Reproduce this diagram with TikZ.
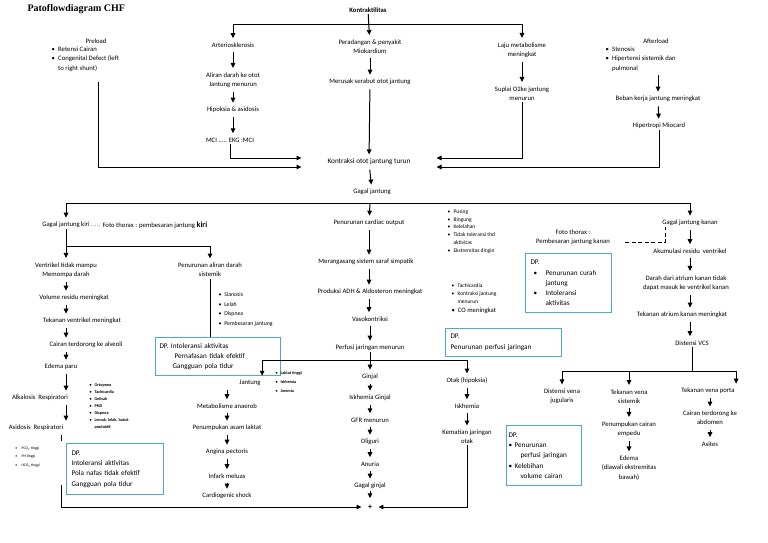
\documentclass[tikz,border=0pt]{standalone}
\usepackage{fontspec}
\setmainfont{Carlito}
\newfontfamily\titlefont{Liberation Serif}
\usetikzlibrary{arrows.meta}
\definecolor{dpcyan}{HTML}{4BACC6}
\newcommand{\bul}[1][1em]{\makebox[#1][l]{\textbullet}}
\newcommand{\nobul}[1][1em]{\hspace*{#1}}

\begin{document}
\begin{tikzpicture}[x=1pt, y=-1pt, line width=1pt,
    lbl/.style={font=\fontsize{6.7}{9.3}\selectfont, align=center, inner sep=1pt},
    lst/.style={font=\fontsize{5.5}{7.8}\selectfont, align=left, inner sep=0pt, anchor=north west},
    tny/.style={font=\bfseries\fontsize{4.2}{7}\selectfont, align=left, inner sep=0pt, anchor=north west},
    dp/.style={draw=dpcyan, line width=1.1pt, anchor=north west, align=left, inner ysep=2pt, font=\fontsize{7.2}{10.3}\selectfont},
    arr/.style={-{Triangle[length=5pt,width=4.6pt]}, shorten >=3pt},
    go/.style={arr, shorten <=3pt}]
                \useasboundingbox (0,0) rectangle (768,543);
                % Top: causes
                \node[font=\titlefont\bfseries\fontsize{10}{12}\selectfont, inner sep=0pt, anchor=west] (title) at (27,9) {Patoflowdiagram CHF};
                \node[lbl, font=\bfseries\fontsize{6.7}{9}\selectfont] (kontrak) at (368,10) {Kontraktilitas};
                \node[lbl] (preload) at (96,41) {Preload};
                \node[lst, font=\fontsize{6.7}{9.5}\selectfont] (prelist) at (51,46) {\bul Retensi Cairan\\\bul Congenital Defect (left\\\nobul to right shunt)};
                \node[lbl] (arterio) at (233,45) {Arteriosklerosis};
                \node[lbl] (aliran) at (233,80) {Aliran darah ke otot\\Jantung menurun};
                \node[lbl] (hipok) at (233,110) {Hipoksia \& asidosis};
                \node[lbl] (mci) at (230,140) {MCI ..... EKG :MCI};
                \node[lbl] (perad) at (370,46.5) {Peradangan \& penyakit\\Miokardium};
                \node[lbl] (merusak) at (370,82) {Merusak serabut otot jantung};
                \node[lbl] (laju) at (522,50) {Laju metabolisme\\meningkat};
                \node[lbl] (suplai) at (522,93.5) {Suplai O2ke jantung\\menurun};
                \node[lbl] (afterload) at (656,41) {Afterload};
                \node[lst, font=\fontsize{6.7}{9.5}\selectfont] (aftlist) at (605,46) {\bul Stenosis\\\bul Hipertensi sistemik dan\\\nobul pulmonal};
                \node[lbl] (beban) at (658,99) {Beban kerja jantung meningkat};
                \node[lbl] (hiper) at (659,126) {Hipertropi Miocard};
                \node[lbl, font=\fontsize{7.2}{9}\selectfont, minimum width=128pt] (kontr) at (369,162) {Kontraksi otot jantung turun};
                \node[lbl] (gagal) at (372,192) {Gagal jantung};
                \coordinate (kbar) at (370,25);
                \coordinate (pl) at (98,82);
                \draw[arr] (kontrak) -- (perad);
                \draw[arr] (kbar) -| (arterio);
                \draw[arr] (kbar) -| (laju);
                \draw[go] (arterio) -- (aliran);
                \draw[go] (aliran) -- (hipok);
                \draw[go] (hipok) -- (hipok |- mci.north);
                \draw[go] (perad) -- (merusak);
                \draw[go] (merusak) -- (kontr);
                \draw[go] (laju) -- (suplai);
                \draw[go] (beban |- aftlist.south) -- (beban);
                \draw[go] (beban) -- (hiper);
                \draw[arr] (mci) |- ([yshift=4pt]kontr.west);
                \draw[arr] (pl) |- ([yshift=-5pt]kontr.west);
                \draw[arr] (suplai) |- ([yshift=4pt]kontr.east);
                \draw[arr] (hiper) |- ([yshift=-5pt]kontr.east);
                \draw[go] (kontr) -- (gagal);

                % Left: gagal jantung kiri
                \node[lbl] (gkiri) at (66,225) {Gagal jantung kiri};
                \node[lbl, anchor=west] (fotokiri) at (101,225) {Foto thorax : pembesaran jantung {\bfseries\fontsize{8}{9}\selectfont kiri}};
                \node[lbl] (ventr) at (66,270) {Ventrikel tidak mampu\\Memompa darah};
                \node[lbl] (volres) at (74,298) {Volume residu meningkat};
                \node[lbl] (tekv) at (82,321) {Tekanan ventrikel meningkat};
                \node[lbl] (cairan) at (86,345) {Cairan terdorong ke alveoli};
                \node[lbl] (edema) at (61,367) {Edema paru};
                \node[lbl] (alk) at (40,398) {Alkalosis\ \ Respiratori};
                \node[lbl] (asid) at (36,428) {Asidosis\ \ Respiratori};
                \node[tny, font=\fontsize{3.8}{8.5}\selectfont] (pcolist) at (15,446) {\bul[1.6em]PCO\textsubscript{2} tinggi\\\bul[1.6em]PH tinggi\\\bul[1.6em]HCO\textsubscript{3} tinggi};
                \node[tny] (ortolist) at (89,383) {\bul[1.2em]Ortopnea\\\bul[1.2em]Tachicardia\\\bul[1.2em]Gelisah\\\bul[1.2em]PND\\\bul[1.2em]Dispnea\\\bul[1.2em]Lemak, lelah, batuk\\\nobul[1.2em]produktif};
                \node[lbl] (penal) at (210,270) {Penurunan aliran darah\\sistemik};
                \node[lst, font=\fontsize{5.8}{9.7}\selectfont] (sialist) at (218,292) {\bul Sianosis\\\bul Lelah\\\bul Dispnea\\\bul Pembesaran jantung};
                \node[dp, text width=117pt, inner xsep=4pt, minimum height=38pt] (dpa) at (155,337) {DP. Intoleransi aktivitas\\\hspace*{15pt}Pernafasan tidak efektif\\\hspace*{13pt}Gangguan pola tidur};
                \node[lbl] (jant) at (250,383) {Jantung};
                \node[tny, font=\bfseries\fontsize{4.2}{9}\selectfont] (laklist) at (275,371) {\bul[1.2em]Laktat tinggi\\\bul[1.2em]Iskhemia\\\bul[1.2em]Anemia};
                \node[lbl] (metab) at (227,406) {Metabolisme anaerob};
                \node[lbl] (penas) at (227,428) {Penumpukan asam laktat};
                \node[lbl] (angina) at (227,452) {Angina pectoris};
                \node[lbl] (infark) at (227,476) {Infark meluas};
                \node[lbl] (cardio) at (227,496) {Cardiogenic shock};
                \node[dp, text width=87pt, inner xsep=5pt, minimum height=51pt] (dpb) at (66,443) {DP.\\Intoleransi aktivitas\\Pola nafas tidak efektif\\Gangguan pola tidur};

                % Centre: cardiac output
                \node[lbl] (penco) at (369,223) {Penurunan cardiac output};
                \node[lbl] (meran) at (366,262) {Merangasang sistem saraf simpatik};
                \node[lbl] (prod) at (370,292) {Produksi ADH \& Aldosteron meningkat};
                \node[lbl] (vaso) at (370,319) {Vasokontriksi};
                \node[lbl] (perf) at (370,348) {Perfusi jaringan menurun};
                \node[lst] (puslist) at (447,209) {\bul[1.1em]Pusing\\\bul[1.1em]Bingung\\\bul[1.1em]Kelelahan\\\bul[1.1em]Tidak toleransi thd\\\nobul[1.1em]aktivitas\\\bul[1.1em]Ekstremitas dingin};
                \node[lst, font=\fontsize{5.5}{8.3}\selectfont] (tachlist) at (451,283) {\bul[1.1em]Tachicardia\\\bul[1.1em]Kontraksi jantung\\\nobul[1.1em]menurun\\{\fontsize{6.7}{8.3}\selectfont\bul[0.95em]CO meningkat}};
                \node[dp, text width=106pt, inner xsep=5pt, minimum height=28pt, font=\fontsize{7.2}{11.5}\selectfont] (dpc) at (445,328) {DP.\\Penurunan perfusi jaringan};
                \node[lbl] (ginjal) at (370,377) {Ginjal};
                \node[lbl] (iskg) at (370,398) {Iskhemia Ginjal};
                \node[lbl] (gfr) at (370,420) {GFR menurun};
                \node[lbl] (olig) at (370,442) {Oliguri};
                \node[lbl] (anur) at (370,464) {Anuria};
                \node[lbl] (gginj) at (370,486) {Gagal ginjal};
                \node[lbl, font=\bfseries\fontsize{8}{9}\selectfont, inner sep=3pt] (plus) at (370,507) {+};
                \node[lbl] (otak) at (467,381) {Otak (hipoksia)};
                \node[lbl] (iskh) at (467,406) {Iskhemia};
                \node[lbl] (kemat) at (467,437) {Kematian jaringan\\otak};

                % Right: gagal jantung kanan
                \node[lbl] (gkanan) at (690,223) {Gagal jantung kanan};
                \node[lbl] (fotokn) at (573,237.5) {Foto thorax :\\Pembesaran jantung kanan};
                \node[dp, text width=76pt, inner xsep=5pt, minimum height=59pt] (dpd) at (525,253) {DP.\\\hspace*{3pt}\bul[12pt]Penurunan curah\\\nobul[15pt]jantung\\\hspace*{3pt}\bul[12pt]Intoleransi\\\nobul[15pt]aktivitas};
                \node[lbl] (akum) at (690,251) {Akumulasi residu\ \ ventrikel};
                \node[lbl] (darah) at (686,283) {Darah dari atrium kanan tidak\\dapat masuk ke ventrikel kanan};
                \node[lbl] (tekat) at (682,315) {Tekanan atrium kanan meningkat};
                \node[lbl] (vcs) at (692,343) {Distensi VCS};
                \node[lbl] (dvj) at (562,396.5) {Distensi vena\\jugularis};
                \node[lbl] (tvs) at (629,396.5) {Tekanan vena\\sistemik};
                \node[lbl] (penum) at (629,429) {Penumpukan cairan\\empedu};
                \node[lbl] (edema2) at (629,468) {Edema\\(diawali ekstremitas\\bawah)};
                \node[lbl] (tvp) at (708,391) {Tekanan vena porta};
                \node[lbl] (cair2) at (710,418) {Cairan terdorong ke\\abdomen};
                \node[lbl] (asites) at (710,444) {Asites};
                \node[dp, text width=71pt, inner xsep=2pt, minimum height=60pt] (dpe) at (506,425) {DP.\\\bul[6pt]Penurunan\\\nobul[12pt]perfusi jaringan\\\bul[6pt]Kelebihan\\\nobul[12pt]volume cairan};

                % Wires
                \coordinate (gbar) at (370,203);
                \coordinate (lbar) at (66,246);
                \coordinate (pbar) at (370,360);
                \coordinate (vbar) at (692,371);
                \coordinate (tick) at (61,435);
                \coordinate (lowl) at (61,485);
                \draw[arr] (gbar) -| (gkiri);
                \draw[arr] (gbar) -| (gkanan);
                \draw[arr] (gbar) -- (penco);
                \draw[gray!60, line width=0.4pt, dash pattern=on 1pt off 1pt] (gkiri.east) -- (fotokiri.west);
                \draw (gkiri) -- (lbar);
                \draw[arr] (lbar) -- (ventr);
                \draw[arr] (lbar) -| (penal);
                \draw[go] (ventr) -- (ventr |- volres.north);
                \draw[go] (volres.south -| ventr) -- (ventr |- tekv.north);
                \draw[go] (tekv.south -| ventr) -- (ventr |- cairan.north);
                \draw[go] (cairan.south -| ventr) -- (ventr |- edema.north);
                \draw[go] (edema.south -| ventr) -- (ventr |- alk.north);
                \draw[go] (alk.south -| ventr) -- (ventr |- asid.north);
                \draw (tick) -- ++(0,6);
                \draw[arr] (lowl) |- (plus);
                \draw (penal) -- (penal |- dpa.north);
                \draw[go] (jant.south -| metab) -- (metab);
                \draw[go] (metab) -- (penas);
                \draw[go] (penas) -- (angina);
                \draw[go] (angina) -- (infark);
                \draw[go] (infark) -- (cardio);
                \draw[go] (penco) -- (penco |- meran.north);
                \draw[go] (meran.south -| penco) -- (penco |- prod.north);
                \draw[go] (prod.south -| penco) -- (penco |- vaso.north);
                \draw[go] (vaso) -- (perf);
                \draw[arr] (perf) -- (ginjal);
                \draw[arr] (pbar) -| (jant.north east);
                \draw[arr] (pbar) -| (otak);
                \draw[go] (ginjal) -- (iskg);
                \draw[go] (iskg) -- (gfr);
                \draw[go] (gfr) -- (olig);
                \draw[go] (olig) -- (anur);
                \draw[go] (anur) -- (gginj);
                \draw[go, shorten <=1pt] (gginj) -- (plus);
                \draw[go] (otak) -- (iskh);
                \draw[go] (iskh) -- (kemat);
                \draw[arr] (kemat) |- (plus);
                \draw[dash pattern=on 4pt off 2.5pt, line width=0.7pt] ([xshift=14pt,yshift=-4.5pt]fotokn.east) -| ([xshift=5pt]gkanan.south west);
                \draw[go] (gkanan) -- (gkanan |- akum.north);
                \draw[go] (akum) -- (gkanan |- darah.north);
                \draw[go] (darah.south -| gkanan) -- (gkanan |- tekat.north);
                \draw[go] (tekat.south -| gkanan) -- (gkanan |- vcs.north);
                \draw (vcs) -- (vbar);
                \draw[arr] (vbar) -| (dvj);
                \draw[arr] (vbar) -| (tvs);
                \draw[arr] (vbar) -| (tvp.north east);
                \draw[go] (tvs) -- (penum);
                \draw[go] (penum) -- (edema2);
                \draw[go] (tvp.south -| cair2) -- (cair2);
                \draw[go] (cair2) -- (asites);
            \end{tikzpicture}
\end{document}
